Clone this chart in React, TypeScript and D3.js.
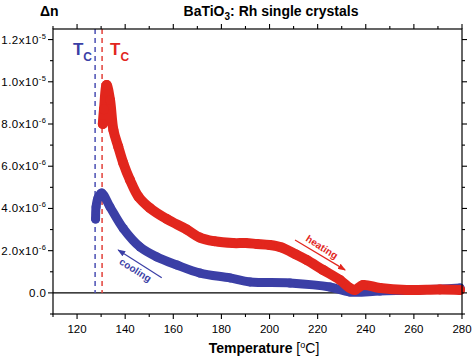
import * as d3 from 'd3';

// heating run (red), temperature in °C, Δn in units of 1e-6
const heatT = [130.7, 131.2, 132.3, 133.7, 135.1, 137.1, 139.2, 142.0, 145.5, 150.3, 157.3, 165.6, 171.0, 177.0, 184.8, 190.0, 194.7, 200.0, 205.0, 211.0, 215.4, 222.2, 229.3, 233.4, 235.5, 238.8, 245.9, 257.0, 270.8, 279.2];
const heatDn = [8.0, 8.7, 9.85, 9.14, 7.72, 6.93, 6.15, 5.35, 4.56, 4.02, 3.5, 3.0, 2.62, 2.45, 2.36, 2.36, 2.32, 2.27, 2.15, 1.82, 1.56, 1.09, 0.61, 0.23, 0.14, 0.37, 0.23, 0.14, 0.16, 0.14];

// cooling run (blue)
const coolT = [127.7, 127.9, 128.7, 130.2, 133.7, 139.2, 146.2, 153.2, 161.5, 171.1, 183.6, 191.9, 208.5, 225.1, 233.4, 245.9, 262.5, 279.2];
const coolDn = [3.5, 4.07, 4.5, 4.73, 4.07, 3.05, 2.17, 1.7, 1.32, 0.94, 0.71, 0.52, 0.47, 0.28, 0.04, 0.09, 0.14, 0.23];

const tcCool = 127.5;
const tcHeat = 130.4;

const xTicks = [120, 140, 160, 180, 200, 220, 240, 260, 280];
const yTicks = [0, 2, 4, 6, 8, 10, 12];
const yMant = ['0.0', '2.0', '4.0', '6.0', '8.0', '1.0', '1.2'];
const yExp = ['', '-6', '-6', '-6', '-6', '-5', '-5'];

const RED = '#e2261d';
const BLUE = '#3b3fa6';

const W = 474;
const H = 358;
const m = { top: 29, right: 12, bottom: 44, left: 53 };

export default function App() {
  const x = d3.scaleLinear().domain([110, 280]).range([m.left, W - m.right]);
  const y = d3.scaleLinear().domain([-1, 12.5]).range([H - m.bottom, m.top]);

  const line = d3.line<[number, number]>()
    .x(d => x(d[0]))
    .y(d => y(d[1]))
    .curve(d3.curveCatmullRom.alpha(0.5));

  const heat = heatT.map((t, i) => [t, heatDn[i]] as [number, number]);
  const cool = coolT.map((t, i) => [t, coolDn[i]] as [number, number]);

  const xMinor = d3.range(110, 281, 10);
  const yMinor = d3.range(-1, 12.6, 1);
  const x0 = x.range()[0], x1 = x.range()[1];
  const yb = y.range()[0], yt = y.range()[1];
  const font = 'Liberation Sans, Arial, sans-serif';

  const ang = 32;

  return (
    <svg width={W} height={H} style={{ position: 'absolute', left: 0, top: 0 }} fontFamily={font}>
      <defs>
        <marker id="ahB" markerWidth="8" markerHeight="6" refX="7" refY="3" orient="auto" markerUnits="userSpaceOnUse">
          <path d="M0,0 L8,3 L0,6 Z" fill={BLUE} />
        </marker>
        <marker id="ahR" markerWidth="8" markerHeight="6" refX="7" refY="3" orient="auto" markerUnits="userSpaceOnUse">
          <path d="M0,0 L8,3 L0,6 Z" fill={RED} />
        </marker>
      </defs>

      {/* titles */}
      <text x={40} y={16} fontSize={14} fontWeight="bold">Δn</text>
      <text x={271} y={16} fontSize={14} fontWeight="bold" textAnchor="middle">
        BaTiO<tspan fontSize={10} dy={4}>3</tspan><tspan dy={-4}>: Rh single crystals</tspan>
      </text>

      {/* zero line */}
      <line x1={x0} x2={x1} y1={y(0)} y2={y(0)} stroke="#000" strokeWidth={1.2} />

      {/* Tc dashed lines */}
      <line x1={x(tcCool)} x2={x(tcCool)} y1={yt} y2={y(0)} stroke="#4a4fb3" strokeWidth={1.5} strokeDasharray="5,4" />
      <line x1={x(tcHeat)} x2={x(tcHeat)} y1={yt} y2={y(0)} stroke="#e2413a" strokeWidth={1.5} strokeDasharray="5,4" />

      {/* data */}
      <path d={line(cool) ?? ''} fill="none" stroke={BLUE} strokeWidth={9} strokeLinejoin="round" strokeLinecap="round" />
      {cool.map((d, i) => <circle key={'c' + i} cx={x(d[0])} cy={y(d[1])} r={4.5} fill={BLUE} />)}
      <path d={line(heat) ?? ''} fill="none" stroke={RED} strokeWidth={10} strokeLinejoin="round" strokeLinecap="round" />
      {heat.map((d, i) => <circle key={'h' + i} cx={x(d[0])} cy={y(d[1])} r={5} fill={RED} />)}

      {/* Tc labels */}
      <text x={x(118.3)} y={y(11.27)} fill={BLUE} fontSize={17} fontWeight="bold">
        T<tspan fontSize={12} dy={6}>C</tspan>
      </text>
      <text x={x(133.7)} y={y(11.27)} fill={RED} fontSize={17} fontWeight="bold">
        T<tspan fontSize={12} dy={6}>C</tspan>
      </text>

      {/* annotations */}
      <line x1={x(155.2)} y1={y(0.72)} x2={x(137.1)} y2={y(2.03)} stroke={BLUE} strokeWidth={1.2} markerEnd="url(#ahB)" />
      <text transform={`translate(${x(143.5)},${y(0.94)}) rotate(${ang})`} textAnchor="middle" fontSize={10} fontWeight="bold" fill={BLUE}>cooling</text>
      <line x1={x(210.6)} y1={y(2.51)} x2={x(231.4)} y2={y(1.09)} stroke={RED} strokeWidth={1.2} markerEnd="url(#ahR)" />
      <text transform={`translate(${x(221.0)},${y(2.03)}) rotate(${ang})`} textAnchor="middle" fontSize={10} fontWeight="bold" fill={RED}>heating</text>

      {/* frame */}
      <rect x={x0} y={yt} width={x1 - x0} height={yb - yt} fill="none" stroke="#000" strokeWidth={1.2} />

      {/* x ticks bottom & top */}
      {xMinor.map(v => {
        const major = xTicks.includes(v);
        const len = major ? 5 : 3;
        return (
          <g key={'x' + v}>
            <line x1={x(v)} x2={x(v)} y1={yb} y2={yb + len} stroke="#000" strokeWidth={1.1} />
            <line x1={x(v)} x2={x(v)} y1={yt} y2={yt - len} stroke="#000" strokeWidth={1.1} />
          </g>
        );
      })}
      {xTicks.map(v => (
        <text key={'xl' + v} x={x(v)} y={332.5} fontSize={11.5} textAnchor="middle">{v}</text>
      ))}

      {/* y ticks left & right */}
      {yMinor.map(v => {
        const major = yTicks.includes(v);
        const len = major ? 5 : 3;
        return (
          <g key={'y' + v}>
            <line x1={x0} x2={x0 - len} y1={y(v)} y2={y(v)} stroke="#000" strokeWidth={1.1} />
            <line x1={x1} x2={x1 + len} y1={y(v)} y2={y(v)} stroke="#000" strokeWidth={1.1} />
          </g>
        );
      })}
      {yTicks.map((v, i) => (
        <text key={'yl' + v} x={x0 - 6.5} y={y(v) + 4} fontSize={11.5} textAnchor="end" letterSpacing={0.5}>
          {yMant[i]}{yExp[i] ? 'x10' : ''}
          {yExp[i] ? <tspan fontSize={7.5} dy={-5}>{yExp[i]}</tspan> : null}
        </text>
      ))}

      {/* x label */}
      <text x={264} y={352.5} fontSize={14} textAnchor="middle">
        <tspan fontWeight="bold">Temperature</tspan> [<tspan fontSize={9} dy={-5}>o</tspan><tspan dy={5}>C]</tspan>
      </text>
    </svg>
  );
}
